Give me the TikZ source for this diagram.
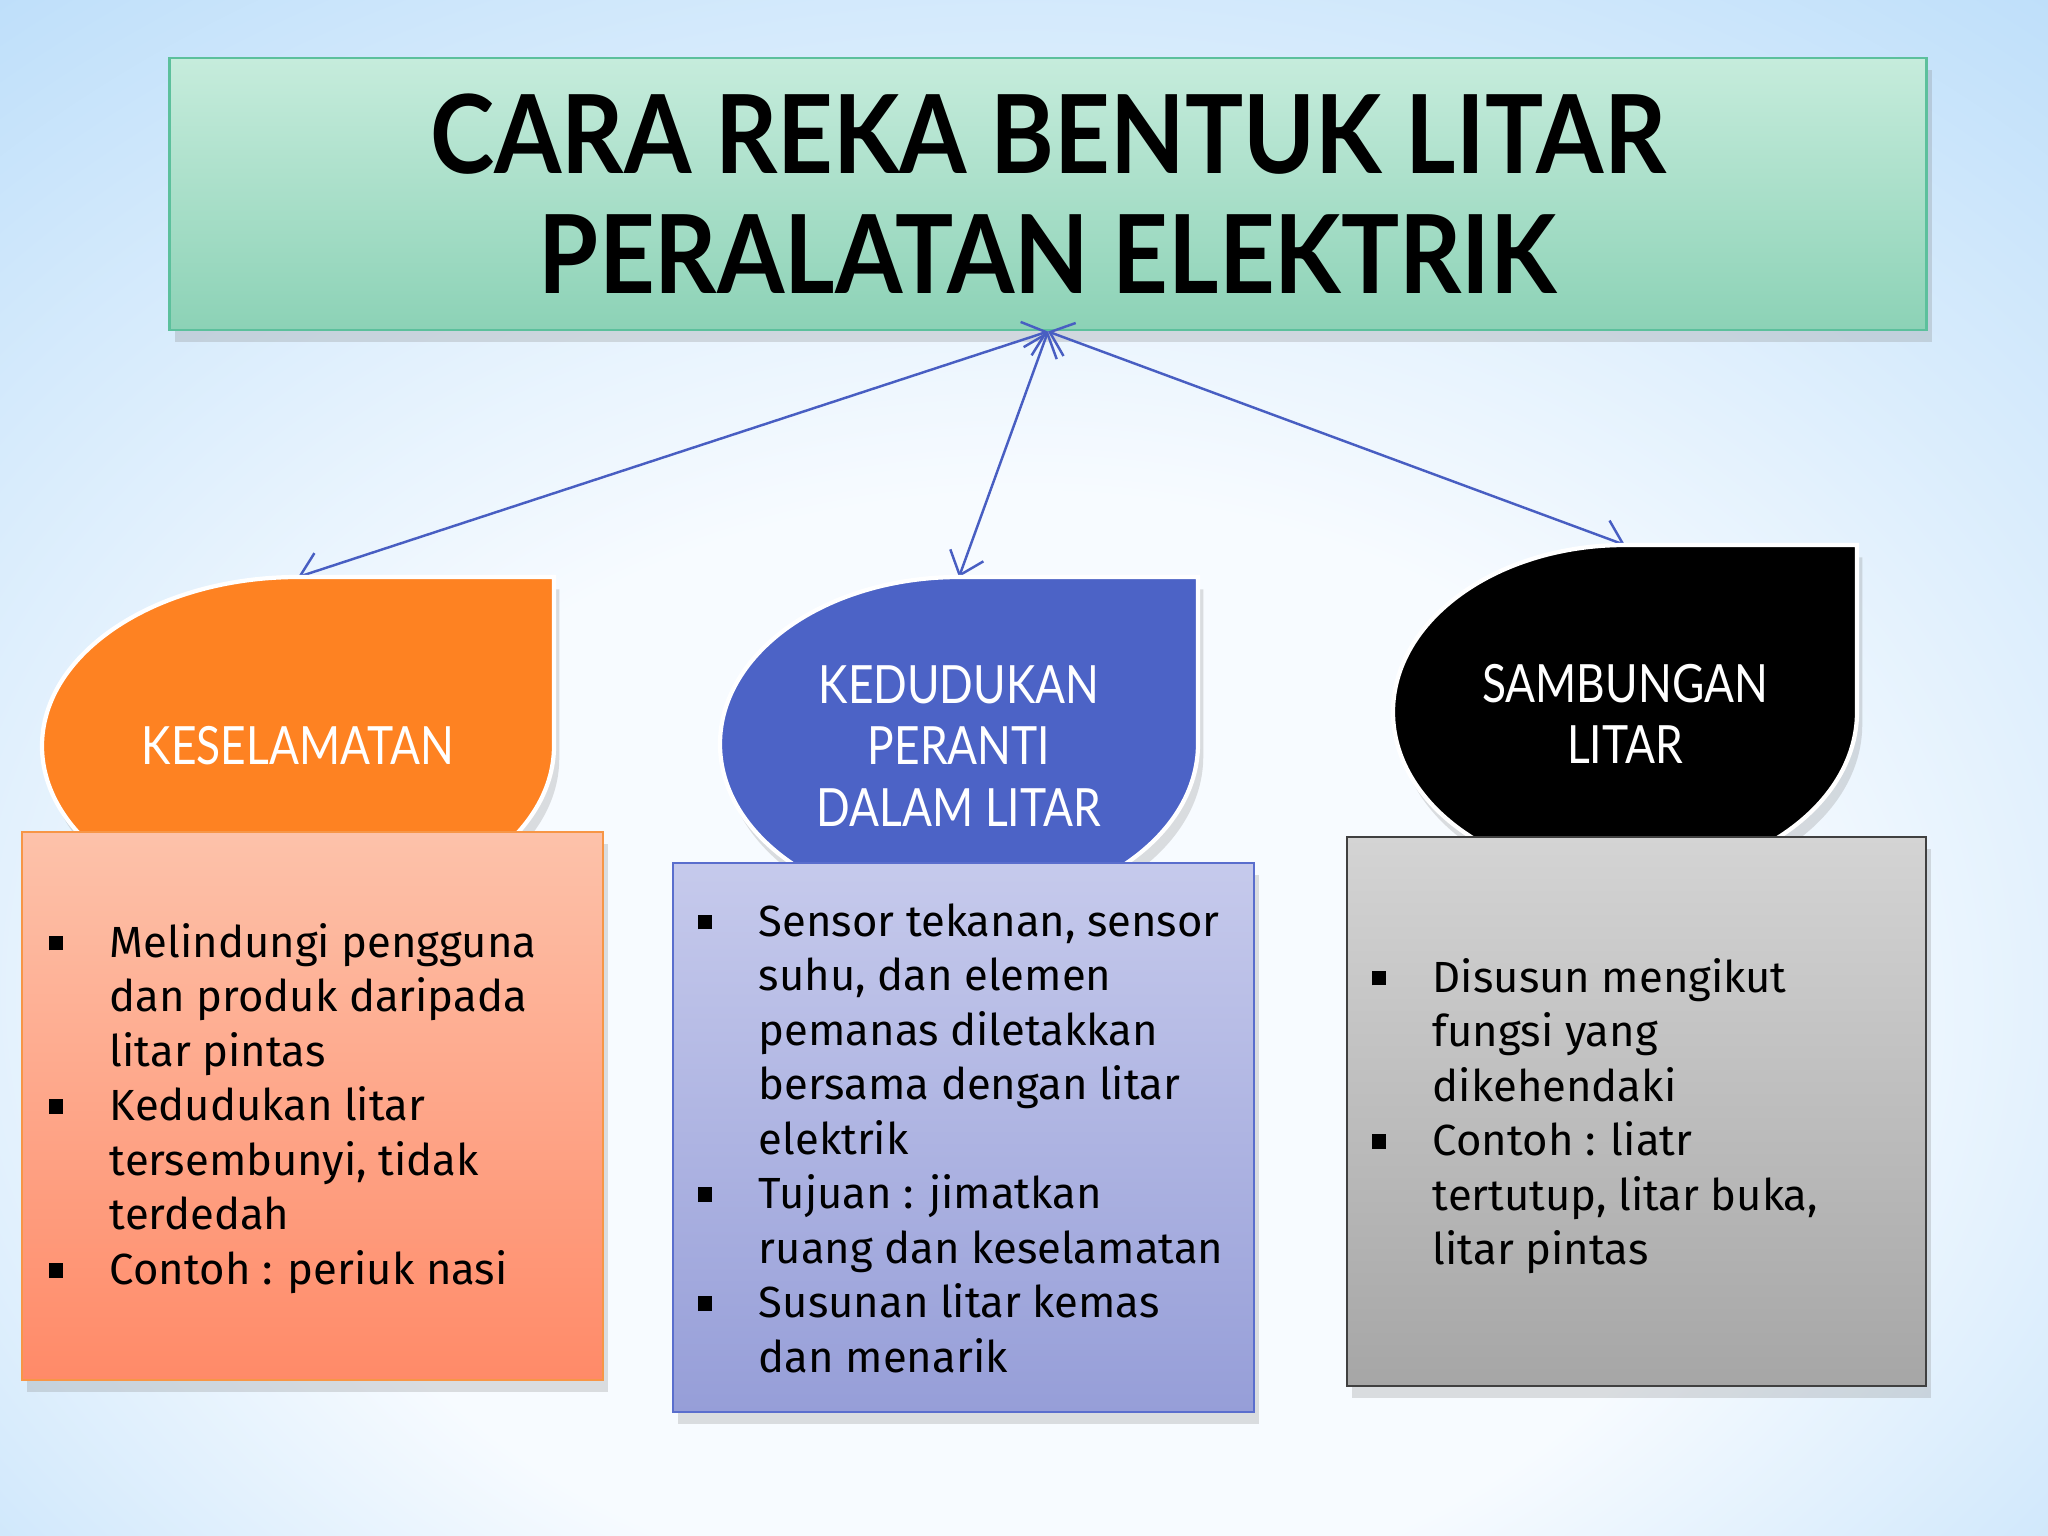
\documentclass[tikz,border=0pt]{standalone}
\usepackage{fontspec}
\setmainfont{Fira Sans}
\newfontfamily\headfont[FakeStretch=0.89]{Lato}
\newfontfamily\leaffont[FakeStretch=0.84]{Lato}
\usetikzlibrary{arrows.meta,shadows}
\definecolor{bgblue}{RGB}{152,204,246}
\definecolor{bgwhite}{RGB}{247,251,255}
\definecolor{mint1}{RGB}{198,236,220}
\definecolor{mint2}{RGB}{140,210,182}
\definecolor{mintline}{RGB}{92,192,156}
\definecolor{leaforange}{RGB}{254,130,34}
\definecolor{leafblue}{RGB}{76,99,198}
\definecolor{peach1}{RGB}{253,194,170}
\definecolor{peach2}{RGB}{255,138,104}
\definecolor{peachline}{RGB}{247,150,70}
\definecolor{lav1}{RGB}{198,202,236}
\definecolor{lav2}{RGB}{150,158,216}
\definecolor{lavline}{RGB}{90,110,205}
\definecolor{grey1}{RGB}{212,212,212}
\definecolor{grey2}{RGB}{166,166,166}
\definecolor{arrowblue}{RGB}{72,94,194}
\pgfdeclareradialshading{slidebg}{\pgfpoint{0bp}{-14bp}}{color(0bp)=(bgwhite); color(18bp)=(bgwhite); color(52bp)=(bgblue)}
\newcommand\bul{\rule[0.15em]{4.2pt}{4.2pt}}

\tikzset{
  boxshadow/.style={drop shadow={opacity=0.25,shadow xshift=1.5pt,shadow yshift=-3.5pt}},
  leaf/.style={draw=white, line width=1.2pt, boxshadow},
  textbox/.style={line width=0.8pt, boxshadow},
  leaflabel/.style={text=white, align=center, font=\leaffont\fontsize{15}{17.4}\selectfont},
  bullets/.style={anchor=base west, inner sep=0pt, font=\fontsize{12.4}{15.5}\selectfont},
  link/.style={draw=arrowblue, line width=0.7pt, {Straight Barb[length=6pt,width=10pt]}-{Straight Barb[length=6pt,width=10pt]}}
}

\begin{document}
\begin{tikzpicture}[x=0.01cm,y=-0.01cm]
\useasboundingbox (0,0) rectangle (2048,1536);
\shade[shading=slidebg] (0,0) rectangle (2048,1536);

% title
\node[boxshadow, draw=mintline, line width=0.8pt, top color=mint1, bottom color=mint2,
  minimum width=17.56cm, minimum height=2.72cm, align=center,
  font=\headfont\bfseries\fontsize{31}{34.1}\selectfont] (title) at (1048,194)
  {CARA REKA BENTUK LITAR\\PERALATAN ELEKTRIK};

% leaf tops
\coordinate (kesTop) at (298,577);
\coordinate (kedTop) at (959,577);
\coordinate (samTop) at (1625,545);

\draw[link] (title.south) -- (kesTop);
\draw[link] (title.south) -- (kedTop);
\draw[link] (title.south) -- (samTop);

% leaves
\draw[leaf, fill=leaforange] (554,746) arc[start angle=0, end angle=270, x radius=256, y radius=169] -- (554,577) -- cycle;
\draw[leaf, fill=leafblue] (1198,744) arc[start angle=0, end angle=270, x radius=239, y radius=167] -- (1198,577) -- cycle;
\draw[leaf, fill=black] (1857,712) arc[start angle=0, end angle=270, x radius=232, y radius=167] -- (1857,545) -- cycle;

\node[leaflabel] (kes) at (298,746) {KESELAMATAN};
\node[leaflabel] (ked) at (959,746) {KEDUDUKAN\\PERANTI\\DALAM LITAR};
\node[leaflabel] (sam) at (1625,714) {SAMBUNGAN\\LITAR};

% boxes
\draw[textbox, draw=peachline, top color=peach1, bottom color=peach2] (22,832) rectangle (603,1380);
\draw[textbox, draw=lavline, top color=lav1, bottom color=lav2] (673,863) rectangle (1254,1412);
\draw[textbox, draw=black!75, top color=grey1, bottom color=grey2] (1347,837) rectangle (1926,1386);

\node[bullets] (kesList) at (48,957) {\begin{tabular}[t]{@{}l@{\hspace{13.2pt}}l@{}}
\bul & Melindungi pengguna\\
     & dan produk daripada\\
     & litar pintas\\
\bul & Kedudukan litar\\
     & tersembunyi, tidak\\
     & terdedah\\
\bul & Contoh : periuk nasi
\end{tabular}};

\node[bullets] (kedList) at (697,936) {\begin{tabular}[t]{@{}l@{\hspace{13.2pt}}l@{}}
\bul & Sensor tekanan, sensor\\
     & suhu, dan elemen\\
     & pemanas diletakkan\\
     & bersama dengan litar\\
     & elektrik\\
\bul & Tujuan : jimatkan\\
     & ruang dan keselamatan\\
\bul & Susunan litar kemas\\
     & dan menarik
\end{tabular}};

\node[bullets] (samList) at (1371,992) {\begin{tabular}[t]{@{}l@{\hspace{13.2pt}}l@{}}
\bul & Disusun mengikut\\
     & fungsi yang\\
     & dikehendaki\\
\bul & Contoh : liatr\\
     & tertutup, litar buka,\\
     & litar pintas
\end{tabular}};
\end{tikzpicture}
\end{document}
